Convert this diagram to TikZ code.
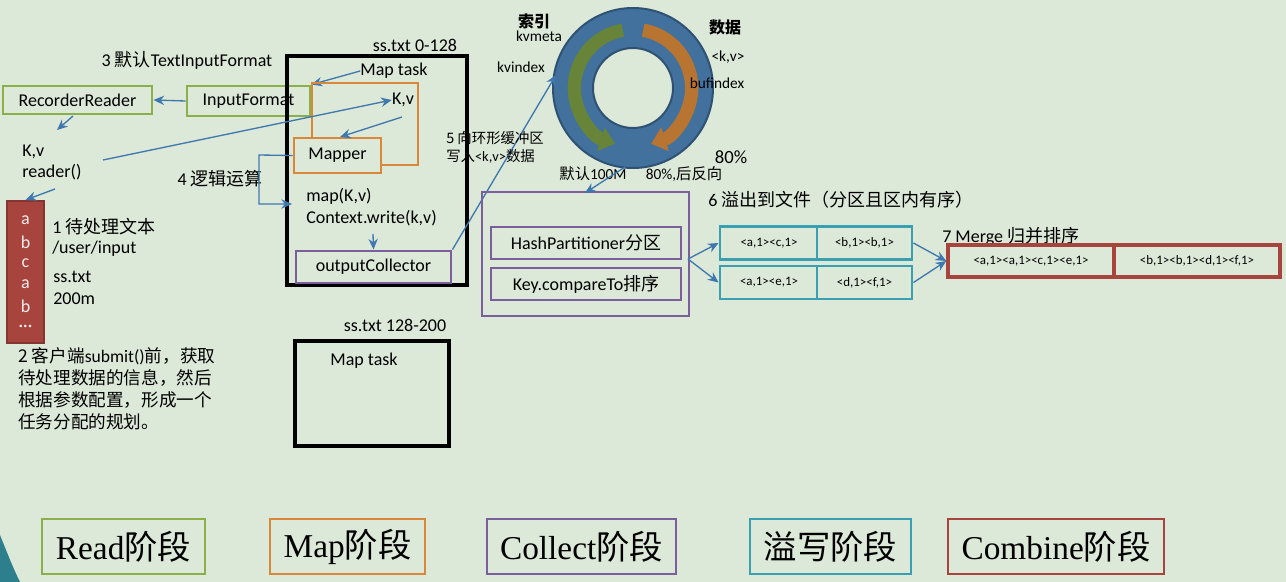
\documentclass[tikz,border=0pt]{standalone}
\usepackage{fontspec}
\setmainfont{Carlito}
\newfontfamily\cjk{Noto Sans CJK SC}
\newfontfamily\serifl{Liberation Serif}
\newcommand\zh[1]{{\cjk #1}}
\usetikzlibrary{arrows.meta}
\definecolor{bg}{HTML}{DCE8D8}
\definecolor{gr}{HTML}{8AB04C}
\definecolor{og}{HTML}{D9883A}
\definecolor{pu}{HTML}{7A5F9A}
\definecolor{te}{HTML}{3A9FB0}
\definecolor{rd}{HTML}{A8443E}
\definecolor{bl}{HTML}{3F78AE}
\definecolor{ring}{HTML}{41719C}
\definecolor{ringd}{HTML}{2F5273}
\tikzset{
 box/.style={draw=#1,line width=2.2pt,fill=bg,inner sep=0},
 arr/.style={draw=bl,line width=1pt,-{Stealth[length=8pt,width=7pt]}},
 t/.style={font=\fontsize{13.5}{15}\selectfont,inner sep=0},
 s/.style={font=\fontsize{9.7}{11}\selectfont,inner sep=0},
 m/.style={font=\fontsize{11.5}{13}\selectfont,inner sep=0},
 big/.style={box=#1,font=\serifl\fontsize{25}{27}\selectfont},
}
\begin{document}
\begin{tikzpicture}[x=0.75pt,y=-0.75pt]
\fill[bg] (0,0) rectangle (1286,582);
\useasboundingbox (0,0) rectangle (1286,582);
\fill[te!80!black] (0,535) .. controls (8,555) and (14,570) .. (20,582) -- (0,582) -- cycle;
% Read
\node[t] (lab3) at (187,60) {3 \zh{默认}TextInputFormat};
\node[box=gr,t,minimum width=149*0.75pt,minimum height=28*0.75pt] (rr) at (77.5,100) {RecorderReader};
\node[box=gr,t,minimum width=123*0.75pt,minimum height=30*0.75pt] (if) at (248.5,101) {InputFormat};
\draw[arr] (if.west) -- (rr.east);
\node[t,anchor=west] (kv1) at (22,152) {K,v};
\node[t,anchor=west] (rd) at (22,172) {reader()};
\coordinate (rrb) at (73,116);
\coordinate (kvt) at (57,130);
\draw[arr] (rrb) -- (kvt);
% red column
\node[draw=rd!80!black,fill=rd,line width=1.5pt,minimum width=37*0.75pt,minimum height=142*0.75pt,inner sep=0] (col) at (25.5,272) {};
\foreach \l/\y in {a/220,b/242,c/263,a/284,b/306}
  \node[t,text=white!90!rd] at (25.5,\y) {\l};
\node[t,text=white!90!rd] at (25.5,328) {\textperiodcentered\textperiodcentered\textperiodcentered};
\coordinate (rdb) at (55,189);
\draw[arr] (rdb) -- (col.north);
\node[t,anchor=west] at (52,227) {1 \zh{待处理文本}};
\node[t,anchor=west] at (52,249) {/user/input};
\node[t,anchor=west] at (53,277) {ss.txt};
\node[t,anchor=west] at (53,299) {200m};
\node[t,anchor=north west,align=left,font=\cjk\fontsize{13.2}{16.5}\selectfont] at (18,347) {2 客户端{\rmfamily submit()}前，获取\\待处理数据的信息，然后\\根据参数配置，形成一个\\任务分配的规划。};
% Map task box
\node[t] at (415,45) {ss.txt 0-128};
\draw[black,line width=2.5pt] (287,56) rectangle (467,285);
\node[t] (mt) at (394,71) {Map task};
\draw[arr] (mt.west) -- (if.north east);
\draw[og,line width=2.2pt] (312,83) rectangle (418,165);
\node[box=og,t,minimum width=87*0.75pt,minimum height=35*0.75pt] (mp) at (337.5,155.5) {Mapper};
\node[t] (kv2) at (403,100) {K,v};
\coordinate (kvb) at (402,117);
\coordinate (mpt) at (340,137);
\draw[arr] (kvb) -- (mpt);
\coordinate (rdr) at (103,160);
\draw[arr] (rdr) -- (kv2.west);
\node[t,anchor=east] at (263,179) {4 \zh{逻辑运算}};
\coordinate (b1) at (259,155);
\coordinate (b2) at (259,204);
\coordinate (b3) at (292,204);
\draw[arr] (mp.west) -- (b1) -- (b2) -- (b3);
\node[t,anchor=west] at (306,196) {map(K,v)};
\node[t,anchor=west] (cw) at (306,218) {Context.write(k,v)};
\node[box=pu,t,minimum width=155*0.75pt,minimum height=32*0.75pt] (oc) at (373.5,267) {outputCollector};
\draw[arr] (373,234) -- (oc.north);
% ring
\coordinate (rc) at (633,88);
\fill[ring,draw=ringd,line width=1.5pt] (rc) circle[radius=60pt];
\fill[bg,draw=ringd,line width=1.5pt] (rc) circle[radius=30pt];
\draw[draw=gr!75!black,line width=10pt,-{Triangle[length=11pt,width=18pt]}] (rc) ++(100:44pt) arc[start angle=100,end angle=252,radius=44pt];
\draw[draw=og!85!black,line width=10pt,-{Triangle[length=11pt,width=18pt]}] (rc) ++(80:44pt) arc[start angle=80,end angle=-72,radius=44pt];
\coordinate (rl) at (556,75);
\draw[arr] (oc.north east) -- (rl);
\node[t,anchor=west,font=\cjk\fontsize{10.8}{13.5}\selectfont,align=left] at (446,147) {5 向环形缓冲区\\写入{\rmfamily <k,v>}数据};
\node[t,font=\cjk\bfseries\fontsize{12}{13}\selectfont] at (534,21) {索引};
\node[m] at (539,36) {kvmeta};
\node[m] at (521,67) {kvindex};
\node[t,font=\cjk\bfseries\fontsize{12}{13}\selectfont] at (725,27) {数据};
\node[m] at (728,57) {<k,v>};
\node[m] at (717,83) {bufindex};
\node[t,font=\fontsize{14}{16}\selectfont] at (731,157) {80\%};
\node[m] at (593,174) {\zh{默认}100M};
\node[m] at (684,174) {80\%,\zh{后反向}};
% collect
\node[draw=pu,line width=2.2pt,minimum width=207*0.75pt,minimum height=124*0.75pt,inner sep=0] (cb) at (585.5,254) {};
\coordinate (rb) at (625,167);
\draw[arr] (rb) -- (585,193);
\node[box=pu,t,minimum width=190*0.75pt,minimum height=32*0.75pt] (hp) at (586,243) {HashPartitioner\zh{分区}};
\node[box=pu,t,minimum width=190*0.75pt,minimum height=32*0.75pt] (kc) at (586,284) {Key.compareTo\zh{排序}};
% spill
\node[t,anchor=west] at (708,200) {6 \zh{溢出到文件（分区且区内有序）}};
\foreach \n/\x/\y/\w/\tx in {s1/769/243/98/{<a,1><c,1>},s2/864.5/243/95/{<b,1><b,1>},s3/769/282.5/98/{<a,1><e,1>},s4/864.5/282.5/95/{<d,1><f,1>}}
 \node[box=te,s,minimum width=\w*0.75pt,minimum height=33*0.75pt] (\n) at (\x,\y) {\tx};
\coordinate (sp) at (688,259);
\draw[arr] (sp) -- (s1.west);
\draw[arr] (sp) -- (s3.west);
% merge
\node[t,anchor=west] at (942,236) {7 Merge \zh{归并排序}};
\node[box=rd,s,line width=2.6pt,minimum width=166*0.75pt,minimum height=32*0.75pt] (m1) at (1031,261) {<a,1><a,1><c,1><e,1>};
\node[box=rd,s,line width=2.6pt,minimum width=166*0.75pt,minimum height=32*0.75pt] (m2) at (1197,261) {<b,1><b,1><d,1><f,1>};
\draw[arr] (s2.east) -- (m1.west);
\draw[arr] (s4.east) -- (m1.west);
% second map task
\node[t] at (395,325) {ss.txt 128-200};
\node[draw=black,line width=2.5pt,minimum width=154*0.75pt,minimum height=105*0.75pt] (mt2) at (372,393.5) {};
\node[t] at (364,361) {Map task};
% legend
\node[big=gr,minimum width=163*0.75pt,minimum height=55*0.75pt] at (123.5,546.5) {Read\zh{阶段}};
\node[big=og,minimum width=155*0.75pt,minimum height=55*0.75pt] at (347.5,546.5) {Map\zh{阶段}};
\node[big=pu,minimum width=189*0.75pt,minimum height=55*0.75pt] at (581.5,546.5) {Collect\zh{阶段}};
\node[big=te,minimum width=161*0.75pt,minimum height=55*0.75pt] at (830.5,546.5) {\zh{溢写阶段}};
\node[big=rd,minimum width=216*0.75pt,minimum height=55*0.75pt] at (1056,546.5) {Combine\zh{阶段}};
\end{tikzpicture}
\end{document}
